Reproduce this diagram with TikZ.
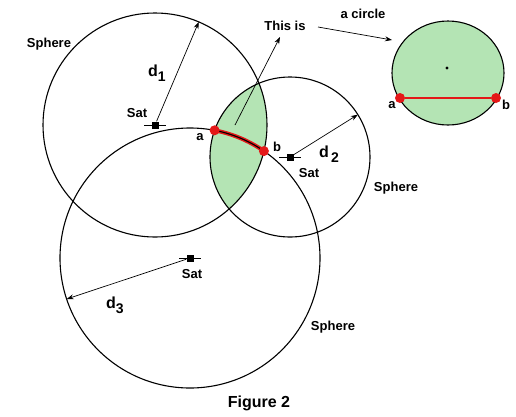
\documentclass[tikz,border=0pt]{standalone}
\usepackage{fontspec}
\setmainfont{Liberation Sans}
\usetikzlibrary{arrows.meta,calc}
\usepackage{xcolor}
\definecolor{lenscol}{RGB}{180,228,180}
\definecolor{chordcol}{RGB}{228,24,24}
\newcommand{\dlab}[1]{{\fontsize{16}{16}\selectfont d}\raisebox{-5pt}{\fontsize{14}{14}\selectfont #1}}

\begin{document}
\begin{tikzpicture}[
    x=1pt, y=-1pt,
    font=\bfseries\fontsize{13}{15}\selectfont,
    sphere/.style={line width=1.1pt},
    dist/.style={-{Stealth[length=7pt,width=5pt]}, line width=0.7pt},
    callout/.style={-{Stealth[length=7pt,width=5pt]}, line width=0.7pt},
    satbox/.style={fill=black, minimum size=7pt, inner sep=0pt},
    hit/.style={fill=chordcol, circle, minimum size=10pt, inner sep=0pt},
]
\useasboundingbox (0,0) rectangle (516,416);

% ---- Centres ----
\coordinate (s1) at (155,125);
\coordinate (s2) at (290,157);
\coordinate (s3) at (190,258);
\coordinate (cc) at (448,73);

% ---- Lens and arc a-b ----
\begin{scope}
  \clip (s1) circle (112);
  \fill[lenscol] (s2) circle (80);
  \clip (s2) circle (80);
  \draw[chordcol, line width=4pt] (s3) circle (130);
\end{scope}

% ---- Spheres ----
\draw[sphere] (s1) circle (112);
\draw[sphere] (s2) circle (80);
\draw[sphere] (s3) circle (130);

\node[hit] (pa) at (214.6,130.3) {};
\node[hit] (pb) at (263.9,151.1) {};
\node at (200,137) {a};
\node at (277,147) {b};

% ---- Satellites ----
\foreach \s/\n in {s1/sat1, s2/sat2, s3/sat3} {
  \draw[line width=0.7pt] ($(\s)+(-11,0)$) -- ($(\s)+(11,0)$);
  \node[satbox] (\n) at (\s) {};
}
\node at (137,113) {Sat};
\node at (309,173) {Sat};
\node at (192,274) {Sat};

% ---- Distances ----
\coordinate (e1) at ($(s1)+(-67:112)$);
\coordinate (e2) at ($(s2)+(-32:80)$);
\coordinate (e3) at ($(s3)+(161.6:130)$);
\draw[dist] (sat1) -- (e1);
\draw[dist] (sat2) -- (e2);
\draw[dist] (sat3) -- (e3);
\node (d1) at (157,73) {\dlab{1}};
\node (d2) at (329,154) {\dlab{\,2}};
\node (d3) at (115,305) {\dlab{3}};

\node at (49,44) {Sphere};
\node at (396,188) {Sphere};
\node at (333,327) {Sphere};

% ---- The circle ----
\fill[lenscol] (cc) ellipse (56 and 52);
\draw[sphere] (cc) ellipse (56 and 52);
\fill (447,68) circle (1.6);
\node[hit] (ca) at (400,98) {};
\node[hit] (cb) at (496,98) {};
\draw[chordcol, line width=1.2pt] (ca) -- (cb);
\node at (392,105) {a};
\node at (506,105) {b};

% ---- Callouts ----
\node (thisis) at (285,26) {This is};
\node (acircle) at (363,14) {a circle};
\coordinate (lensp) at (235,125);
\coordinate (tip1) at (280,37);
\coordinate (from2) at (318,27);
\coordinate (tip2) at (392,40);
\draw[callout] (lensp) -- (tip1);
\draw[callout] (from2) -- (tip2);

\node[font=\bfseries\fontsize{16}{18}\selectfont] (fig) at (259,403) {Figure 2};

\end{tikzpicture}
\end{document}
